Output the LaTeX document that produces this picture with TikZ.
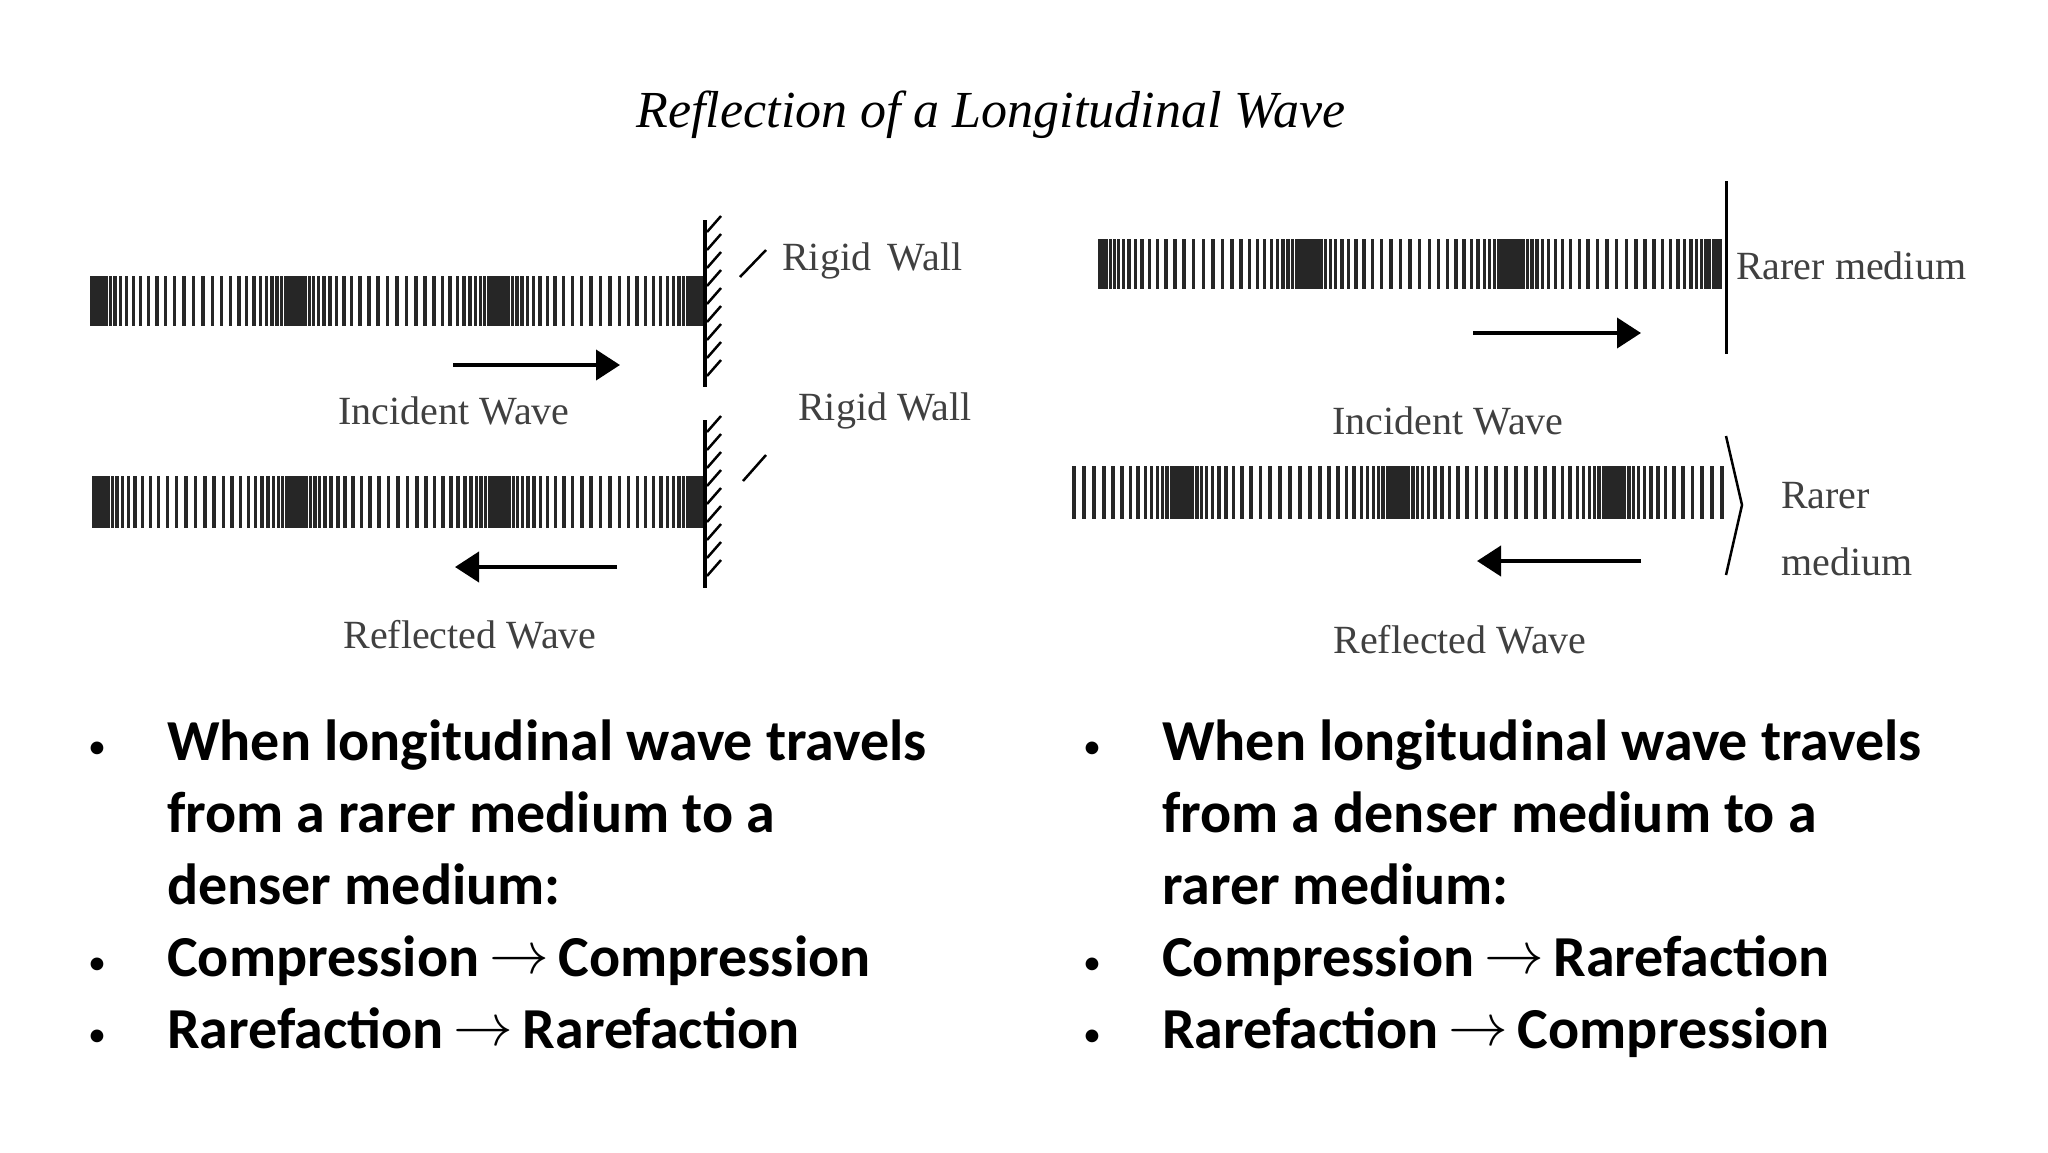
\documentclass[tikz,border=0pt]{standalone}
\usepackage{fontspec}
\setmainfont{Liberation Serif}
\newfontfamily\bul{Carlito}
\usetikzlibrary{arrows.meta}
\newcommand{\mywave}[5]{%
  \foreach \i in {0,...,96}{%
    \pgfmathsetmacro\uu{\i/96}%
    \pgfmathsetmacro\xx{#1+#2*(\uu-0.5*sin(\uu*1080+#5)/(6*pi))}%
    \draw[bar] (\xx,#3) -- (\xx,#4);}}
\newcommand{\myarr}{\,\raisebox{0.1ex}{\scalebox{2.4}{$\rightarrow$}}\,}
\begin{document}
\begin{tikzpicture}[x=1pt,y=-1pt,
  bar/.style={line width=3.4pt,black!85},
  lab/.style={font=\fontsize{40}{42}\selectfont, text=black!75, inner sep=0pt},
  arr/.style={line width=4pt,-{Triangle[length=24pt,width=30pt]}},
  wall/.style={line width=3.5pt},
  hatch/.style={line width=2.5pt},
  txt/.style={font=\bul\bfseries\fontsize{58}{72}\selectfont, anchor=base west, inner sep=0pt},
  dot/.style={font=\bul\fontsize{36}{40}\selectfont, anchor=base west, inner sep=0pt}]
\useasboundingbox (0,0) rectangle (2048,1152);
\node[font=\itshape\fontsize{52}{56}\selectfont] (title) at (991,115) {Reflection of a Longitudinal Wave};
% ---- left diagram
\mywave{92}{610}{276}{326}{0}
\mywave{94}{608}{476}{528}{0}
\coordinate (w1t) at (705,220); \coordinate (w1b) at (705,387);
\draw[wall] (w1t) -- (w1b);
\foreach \y in {232,250,...,386} \draw[hatch] (707,\y) -- (721,\y-16);
\coordinate (w2t) at (705,420); \coordinate (w2b) at (705,588);
\draw[wall] (w2t) -- (w2b);
\foreach \y in {432,450,...,586} \draw[hatch] (707,\y) -- (721,\y-16);
\draw[hatch] (740,277) -- (766,250);
\draw[hatch] (743,481) -- (766,455);
\node[lab,anchor=west] (rw1) at (782,261) {Rigid\, Wall};
\node[lab] (rw2) at (885,411) {Rigid Wall};
\coordinate (a1s) at (453,365); \coordinate (a1e) at (620,365);
\draw[arr] (a1s) -- (a1e);
\node[lab] (iw1) at (454,411) {Incident Wave};
\coordinate (a2s) at (617,567); \coordinate (a2e) at (455,567);
\draw[arr] (a2s) -- (a2e);
\node[lab] (rf1) at (470,635) {Reflected Wave};
% ---- right diagram
\mywave{1100}{620}{239}{289}{0}
\mywave{1074}{648}{466}{519}{180}
\coordinate (l1t) at (1726,181); \coordinate (l1b) at (1726,354);
\draw[wall,line width=3pt] (l1t) -- (l1b);
\node[lab,anchor=west] (rm1) at (1736,266) {Rarer medium};
\coordinate (a3s) at (1473,333); \coordinate (a3e) at (1641,333);
\draw[arr] (a3s) -- (a3e);
\node[lab] (iw2) at (1448,421) {Incident Wave};
\coordinate (b1) at (1726,436); \coordinate (b2) at (1742,505); \coordinate (b3) at (1726,575);
\draw[line width=2.5pt] (b1) -- (b2) -- (b3);
\node[lab,anchor=west] (rm2) at (1781,496) {Rarer};
\node[lab,anchor=west] (rm3) at (1781,562) {medium};
\coordinate (a4s) at (1641,561); \coordinate (a4e) at (1477,561);
\draw[arr] (a4s) -- (a4e);
\node[lab] (rf2) at (1460,640) {Reflected Wave};
% ---- bullet texts
\foreach \y in {758,974,1046} \node[dot] at (88,\y) {•};
\foreach \y in {758,974,1046} \node[dot] at (1083,\y) {•};
\node[txt] (t1) at (167,760) {When longitudinal wave travels};
\node[txt] (t2) at (167,832) {from a rarer medium to a};
\node[txt] (t3) at (167,904) {denser medium:};
\node[txt] (t4) at (167,976) {Compression\myarr Compression};
\node[txt] (t5) at (167,1048) {Rarefaction\myarr Rarefaction};
\node[txt] (u1) at (1162,760) {When longitudinal wave travels};
\node[txt] (u2) at (1162,832) {from a denser medium to a};
\node[txt] (u3) at (1162,904) {rarer medium:};
\node[txt] (u4) at (1162,976) {Compression\myarr Rarefaction};
\node[txt] (u5) at (1162,1048) {Rarefaction\myarr Compression};
\end{tikzpicture}
\end{document}
